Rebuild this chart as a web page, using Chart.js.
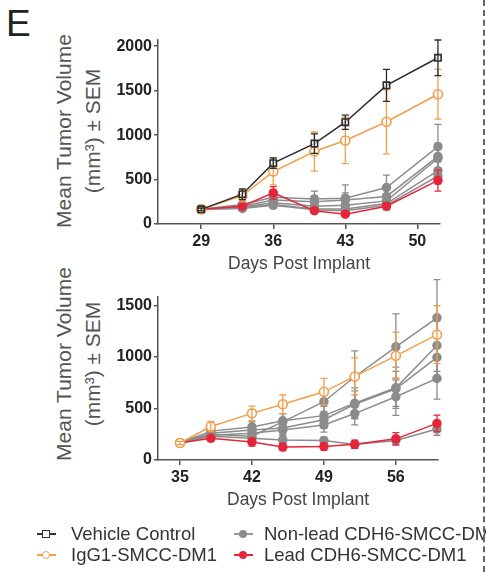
<!DOCTYPE html>
<html>
<head>
<meta charset="utf-8">
<script src="https://cdn.jsdelivr.net/npm/chart.js@4.4.1/dist/chart.umd.min.js"></script>
<style>
  html, body { margin: 0; padding: 0; background: #fff; }
  body { width: 486px; height: 572px; position: relative; overflow: hidden;
         font-family: "Liberation Sans", Arial, sans-serif; color: #2b2b2b; }
  .box { position: absolute; }
  .panel { position: absolute; left: 6px; top: 3px; font-size: 37px; color: #222; }
  .ytitle { position: absolute; width: 230px; height: 58px; font-size: 21px; line-height: 29px;
            text-align: center; white-space: nowrap; color: #555; transform: rotate(-90deg); }
  .leg { position: absolute; font-size: 18.5px; line-height: 20px; color: #333; white-space: nowrap; }
  .mk { position: absolute; width: 19px; height: 12px; }
  .mk .ln { position: absolute; left: 0; right: 0; top: 5px; height: 2px; }
  .mk .dot { position: absolute; left: 5px; top: 2px; width: 8px; height: 8px; border-radius: 50%; box-sizing: border-box; }
  .mk .sq { position: absolute; left: 5px; top: 2px; width: 8px; height: 8px; box-sizing: border-box; }
  .edge { position: absolute; left: 483px; top: 0; height: 572px; border-left: 2px dashed #666; }
</style>
</head>
<body>
<div class="panel">E</div>

<div class="ytitle" style="left:-37px; top:102px;">Mean Tumor Volume<br>(mm³) ± SEM</div>
<div class="ytitle" style="left:-37px; top:335px;">Mean Tumor Volume<br>(mm³) ± SEM</div>

<div class="box" style="left:0; top:0;"><canvas id="topChart" width="460" height="280"></canvas></div>
<div class="box" style="left:0; top:262px;"><canvas id="botChart" width="460" height="258"></canvas></div>

<div class="mk" style="left:37px; top:528px;"><i class="ln" style="background:#333"></i><i class="sq" style="border:1.5px solid #333;background:#fff"></i></div>
<div class="leg" style="left:71px; top:524px;">Vehicle Control</div>
<div class="mk" style="left:37px; top:549px;"><i class="ln" style="background:#f0a04b"></i><i class="dot" style="border:1.5px solid #f0a04b;background:#fff"></i></div>
<div class="leg" style="left:71px; top:545px;">IgG1-SMCC-DM1</div>
<div class="mk" style="left:234px; top:528px;"><i class="ln" style="background:#999"></i><i class="dot" style="background:#8c8c8c"></i></div>
<div class="leg" style="left:264px; top:524px;">Non-lead CDH6-SMCC-DM1</div>
<div class="mk" style="left:234px; top:549px;"><i class="ln" style="background:#e3263a"></i><i class="dot" style="background:#e3263a"></i></div>
<div class="leg" style="left:264px; top:545px;">Lead CDH6-SMCC-DM1</div>

<div class="edge"></div>

<script>
// ---------- top panel data ----------
const topDays = [29, 33, 36, 40, 43, 47, 52];
const topTicks = [29, 36, 43, 50];
const topYTicks = [0, 500, 1000, 1500, 2000];
const topVehicle = [165, 335, 685, 905, 1145, 1560, 1870];
const topVehicleErr = [15, 60, 60, 110, 80, 180, 200];
const topIgG1 = [165, 320, 590, 815, 940, 1150, 1460];
const topIgG1Err = [15, 70, 150, 220, 260, 360, 280];
const topNonLead1 = [165, 220, 300, 280, 290, 410, 870];
const topNonLead1Err = [10, 30, 60, 90, 150, 140, 250];
const topNonLead2 = [165, 200, 270, 250, 270, 310, 760];
const topNonLead2Err = [10, 30, 50, 70, 80, 80, 150];
const topNonLead3 = [165, 190, 240, 200, 210, 260, 740];
const topNonLead3Err = [10, 20, 40, 50, 60, 60, 120];
const topNonLead4 = [165, 180, 220, 170, 170, 230, 600];
const topNonLead4Err = [10, 20, 40, 40, 40, 50, 100];
const topNonLead5 = [165, 175, 210, 160, 150, 210, 540];
const topNonLead5Err = [10, 20, 30, 30, 30, 40, 90];
const topLead = [165, 200, 350, 150, 110, 200, 490];
const topLeadErr = [10, 30, 70, 30, 25, 40, 120];

// ---------- bottom panel data ----------
const botDays = [35, 38, 42, 45, 49, 52, 56, 60];
const botTicks = [35, 42, 49, 56];
const botYTicks = [0, 500, 1000, 1500];
const botIgG1 = [165, 325, 452, 540, 661, 810, 1010, 1215];
const botIgG1Err = [15, 50, 70, 90, 130, 180, 230, 280];
const botNonLead1 = [165, 250, 230, 370, 565, 807, 1097, 1378];
const botNonLead1Err = [10, 40, 60, 80, 120, 250, 320, 370];
const botNonLead2 = [165, 280, 320, 380, 430, 550, 700, 1110];
const botNonLead2Err = [10, 40, 50, 70, 90, 150, 200, 250];
const botNonLead3 = [165, 260, 290, 310, 390, 540, 690, 994];
const botNonLead3Err = [10, 30, 50, 60, 80, 130, 170, 220];
const botNonLead4 = [165, 240, 260, 290, 340, 450, 613, 791];
const botNonLead4Err = [10, 30, 40, 50, 70, 110, 180, 200];
const botNonLead5 = [165, 230, 210, 195, 190, 150, 190, 300];
const botNonLead5Err = [10, 30, 30, 30, 30, 30, 40, 60];
const botLead = [165, 210, 175, 125, 130, 152, 205, 355];
const botLeadErr = [10, 25, 40, 35, 35, 40, 60, 80];

const BLACK = "#2e2a26", ORANGE = "#f0a04b", GRAY = "#8c8c8c", RED = "#e3263a";
const FONT = "'Liberation Sans', Arial, sans-serif";

// error bars drawn through the chart's own y scale
const errorBars = {
  id: "errorBars",
  afterDatasetDraw(chart, args) {
    const ds = chart.data.datasets[args.index];
    if (!ds.errors) return;
    const yScale = chart.scales.y, ctx = chart.ctx;
    ctx.save();
    ctx.strokeStyle = ds.borderColor;
    ctx.lineWidth = 1.3;
    args.meta.data.forEach((pt, i) => {
      const e = ds.errors[i];
      if (!e) return;
      const v = ds.data[i].y;
      const yTop = yScale.getPixelForValue(v + e);
      const yBot = yScale.getPixelForValue(Math.max(v - e, 0));
      ctx.beginPath();
      ctx.moveTo(pt.x, yTop); ctx.lineTo(pt.x, yBot);
      ctx.moveTo(pt.x - 3.5, yTop); ctx.lineTo(pt.x + 3.5, yTop);
      ctx.moveTo(pt.x - 3.5, yBot); ctx.lineTo(pt.x + 3.5, yBot);
      ctx.stroke();
    });
    ctx.restore();
  }
};

function series(days, vals, errs, kind) {
  const pts = days.map((d, i) => ({ x: d, y: vals[i] }));
  const base = { data: pts, errors: errs, clip: false, borderWidth: 1.5, tension: 0 };
  if (kind === "vehicle") return Object.assign(base, {
    borderColor: BLACK, pointStyle: "rect", pointRadius: 4.5,
    pointBackgroundColor: "rgba(255,255,255,0.7)", pointBorderColor: BLACK, pointBorderWidth: 1.6, order: 1 });
  if (kind === "igg") return Object.assign(base, {
    borderColor: ORANGE, pointStyle: "circle", pointRadius: 4.5,
    pointBackgroundColor: "#fff", pointBorderColor: ORANGE, pointBorderWidth: 1.6, order: 2 });
  if (kind === "lead") return Object.assign(base, {
    borderColor: RED, pointRadius: 4, pointBackgroundColor: RED, pointBorderColor: RED, order: 3 });
  return Object.assign(base, {
    borderColor: GRAY, pointRadius: 4, pointBackgroundColor: GRAY, pointBorderColor: GRAY, order: 5 });
}

function axes(xMin, xMax, ticks, yMax, yTicks, xHeight, titlePad) {
  const axisColor = "#555";
  const tickFont = { family: FONT, size: 16, weight: "bold" };
  return {
    x: {
      type: "linear", min: xMin, max: xMax,
      afterBuildTicks: s => { s.ticks = ticks.map(v => ({ value: v })); },
      afterFit: s => { s.height = xHeight; },
      border: { color: axisColor, width: 1.5 },
      grid: { drawOnChartArea: false, tickLength: 5, color: axisColor, lineWidth: 1.5 },
      ticks: { padding: 3, color: "#222", font: tickFont, callback: v => String(v) },
      title: { display: true, text: "Days Post Implant", color: "#444",
               font: { family: FONT, size: 17.5 }, padding: { top: 0, bottom: titlePad } }
    },
    y: {
      type: "linear", min: 0, max: yMax,
      afterBuildTicks: s => { s.ticks = yTicks.map(v => ({ value: v })); },
      afterFit: s => { s.width = 158; },
      border: { color: axisColor, width: 1.5 },
      grid: { drawOnChartArea: false, tickLength: 4, color: axisColor, lineWidth: 1.5 },
      ticks: { padding: 2, color: "#222", font: tickFont, callback: v => String(v) }
    }
  };
}

const common = {
  responsive: false,
  animation: false,
  plugins: { legend: { display: false }, tooltip: { enabled: false } }
};

new Chart(document.getElementById("topChart"), {
  type: "line",
  data: {
    datasets: [
      series(topDays, topVehicle, topVehicleErr, "vehicle"),
      series(topDays, topIgG1, topIgG1Err, "igg"),
      series(topDays, topLead, topLeadErr, "lead"),
      series(topDays, topNonLead1, topNonLead1Err, "nonlead"),
      series(topDays, topNonLead2, topNonLead2Err, "nonlead"),
      series(topDays, topNonLead3, topNonLead3Err, "nonlead"),
      series(topDays, topNonLead4, topNonLead4Err, "nonlead"),
      series(topDays, topNonLead5, topNonLead5Err, "nonlead")
    ]
  },
  options: Object.assign({}, common, {
    layout: { padding: { left: 0, right: 20, top: 40, bottom: 0 } },
    scales: axes(24.8, 52.2, topTicks, 2070, topYTicks, 56, 5)
  }),
  plugins: [errorBars]
});

new Chart(document.getElementById("botChart"), {
  type: "line",
  data: {
    datasets: [
      series(botDays, botIgG1, botIgG1Err, "igg"),
      series(botDays, botLead, botLeadErr, "lead"),
      series(botDays, botNonLead1, botNonLead1Err, "nonlead"),
      series(botDays, botNonLead2, botNonLead2Err, "nonlead"),
      series(botDays, botNonLead3, botNonLead3Err, "nonlead"),
      series(botDays, botNonLead4, botNonLead4Err, "nonlead"),
      series(botDays, botNonLead5, botNonLead5Err, "nonlead")
    ]
  },
  options: Object.assign({}, common, {
    layout: { padding: { left: 0, right: 22, top: 35, bottom: 0 } },
    scales: axes(32.86, 60.1, botTicks, 1580, botYTicks, 60, 9)
  }),
  plugins: [errorBars]
});
</script>
</body>
</html>
